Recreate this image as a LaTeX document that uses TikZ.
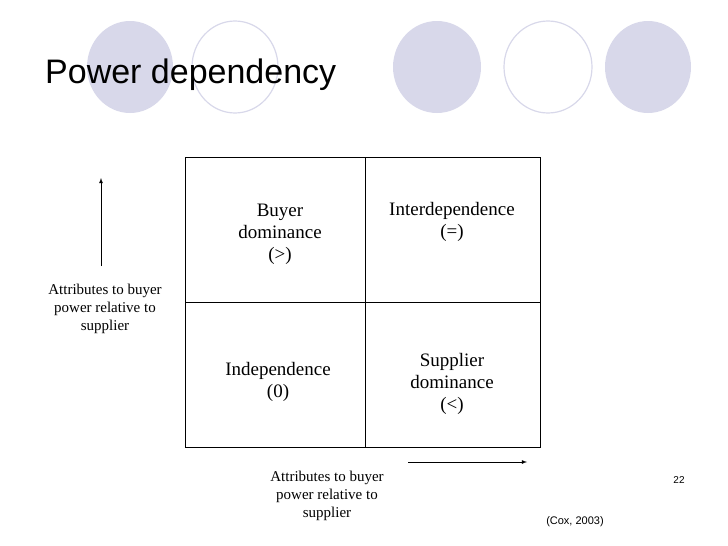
\documentclass[tikz,border=0pt]{standalone}
\usepackage{fontspec}
\setmainfont{Liberation Serif}
\newfontfamily\sansf{Liberation Sans}
\definecolor{lav}{RGB}{216,216,234}
\begin{document}
\begin{tikzpicture}[x=1pt,y=-1pt,
  fillc/.style={fill=lav,draw=none},
  openc/.style={draw=lav,line width=1.2pt,fill=white},
  cell/.style={align=center,font=\fontsize{19}{22}\selectfont},
  side/.style={align=center,font=\fontsize{15}{18}\selectfont},
  arr/.style={-latex,line width=0.8pt}]
\useasboundingbox (0,0) rectangle (728,546);
\fill[fillc] (130,67) ellipse [x radius=43,y radius=46];
\draw[openc] (235,67) ellipse [x radius=43,y radius=46];
\fill[fillc] (437,67) ellipse [x radius=44,y radius=46];
\draw[openc] (548,67) ellipse [x radius=44,y radius=46];
\fill[fillc] (648,67) ellipse [x radius=43,y radius=46];
\node[anchor=base west,inner sep=0,font=\sansf\fontsize{34}{38}\selectfont] (title) at (45,83) {Power dependency};
\draw[line width=0.8pt] (185,157) rectangle (540,447);
\draw[line width=0.8pt] (365,157) -- (365,447);
\draw[line width=0.8pt] (185,302) -- (540,302);
\node[cell] (bd) at (280,234) {Buyer\\dominance\\(>)};
\node[cell] (id) at (452,222) {Interdependence\\(=)};
\node[cell] (in) at (278,382) {Independence\\(0)};
\node[cell] (sd) at (452,384) {Supplier\\dominance\\(<)};
\node[side] (ly) at (105,309) {Attributes to buyer\\power relative to\\supplier};
\coordinate (ya) at (101,266);
\coordinate (yb) at (101,178);
\draw[arr] (ya) -- (yb);
\node[side] (lx) at (327,496) {Attributes to buyer\\power relative to\\supplier};
\coordinate (xa) at (408,462);
\coordinate (xb) at (527,462);
\draw[arr] (xa) -- (xb);
\node[font=\sansf\fontsize{10}{12}\selectfont] (pg) at (679,480) {22};
\node[font=\sansf\fontsize{11}{13}\selectfont] (cox) at (575,522) {(Cox, 2003)};
\end{tikzpicture}
\end{document}
